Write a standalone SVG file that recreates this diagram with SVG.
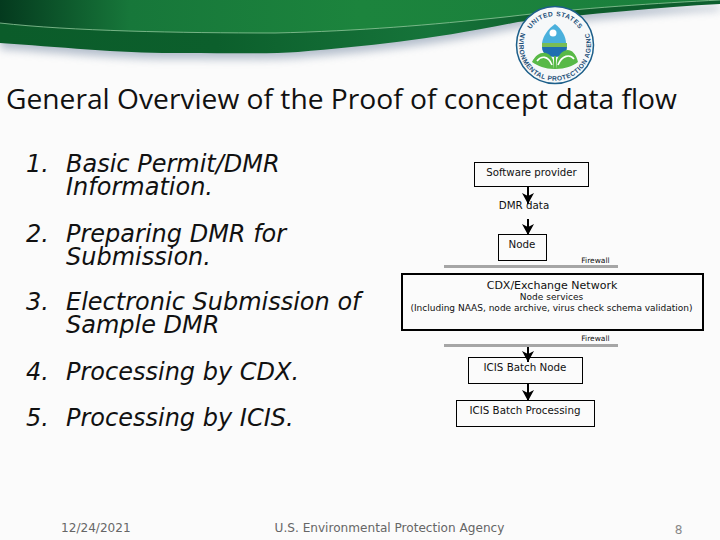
<svg xmlns="http://www.w3.org/2000/svg" width="720" height="540" viewBox="0 0 720 540">
<style>
.b{fill:none;stroke:#000;stroke-width:1}
.d{font-family:"DejaVu Sans",sans-serif;fill:#111}
.li{font-family:"DejaVu Sans",sans-serif;font-style:italic;font-size:24px;fill:#111}
.f{font-family:"DejaVu Sans",sans-serif;font-size:12.1px;fill:#666}
.c{stroke:#000;stroke-width:2;fill:none;marker-end:url(#a)}
.fw{stroke:#a6a6a6;stroke-width:3}
.r{font-family:"Liberation Sans",sans-serif;font-size:6.6px;font-weight:bold;fill:#1d4f78;letter-spacing:.5px}
</style>
<defs>
<marker id="a" markerUnits="userSpaceOnUse" markerWidth="12" markerHeight="12" refX="11" refY="6" orient="auto"><path d="M0 0L11 6L0 12L3 6Z" fill="#000"/></marker>
<linearGradient id="g1" x1="0" x2="1" y1="0" y2="0"><stop offset="0" stop-color="#043a1e"/><stop offset=".18" stop-color="#17773a"/><stop offset=".5" stop-color="#1c843d"/><stop offset="1" stop-color="#1a7f3c"/></linearGradient>
<linearGradient id="g2" x1="0" x2="1" y1="0" y2="0"><stop offset="0" stop-color="#0b5c2a"/><stop offset=".3" stop-color="#0c5f2c"/><stop offset=".6" stop-color="#16743a"/><stop offset=".8" stop-color="#0d5c2c"/><stop offset="1" stop-color="#0d5f2e"/></linearGradient>
<filter id="s" x="-5%" y="-20%" width="110%" height="150%"><feGaussianBlur stdDeviation="4"/></filter>
<path id="top" d="M526 45A29 29 0 0 1 584 45"/>
<path id="bot" d="M521 33A36 36 0 1 0 589 33"/>
</defs>
<rect width="720" height="540" fill="#fbfbfb"/>
<g id="banner">
<path d="M0 43C60 47 130 54 183 53C230 53 270 54 298 52C370 46 430 40 518 22C590 14 660 7 720 4V0H0Z" transform="translate(0 6)" fill="#8f9fb4" opacity=".65" filter="url(#s)"/>
<path d="M0 43C60 47 130 54 183 53C230 53 270 54 298 52C370 46 430 40 518 22C590 14 660 7 720 4V0H0Z" fill="url(#g2)"/>
<path d="M0 23C70 31 180 33 275 33C360 31 430 25 505 17C580 8 660 3 720 0H0Z" fill="url(#g1)"/>
<path d="M0 23C70 31 180 33 275 33C360 31 430 25 505 17C580 8 660 3 720 0" fill="none" stroke="#8fc79a" stroke-width=".8"/>
</g>
<g id="epa-logo">
<ellipse cx="555" cy="45" rx="38.500" ry="38.500" fill="#f6f8f9" stroke="#1d5f8a" stroke-width="1.500"/>
<path d="M555 24C562 29 566 37 566 43H542C543 36 548 29 555 24Z" fill="#4ab0dc"/>
<path d="M542 43H567V47H542Z" fill="#79bd55"/>
<path d="M542 47H567C567 54 561 57 555 57C548 57 542 54 542 47Z" fill="#1e6db0"/>
<circle cx="553" cy="33" r="3.500" fill="#fff"/>
<path d="M554 69C545 69 538 66 532 62C538 50 549 50 553 60ZM556 69C565 69 573 66 578 62C574 46 562 47 557 60Z" fill="#58b947"/>
<path d="M537 61C541 56 548 55 552 65M574 59C570 54 562 55 558 65" fill="none" stroke="#fff" stroke-width="1.600"/>
<path d="M555 56V69" stroke="#58b947" stroke-width="2"/>
<text class="r"><textPath href="#top" startOffset="50%" text-anchor="middle">UNITED STATES</textPath></text>
<text class="r"><textPath href="#bot" startOffset="50%" text-anchor="middle">ENVIRONMENTAL PROTECTION AGENCY</textPath></text>
</g>
<text x="6" y="109" font-family="'Open Sans',sans-serif" font-size="28.200px" fill="#111">General Overview of the Proof of concept data flow</text>
<g id="list" class="li">
<text x="26" y="172">1.</text><text x="66" y="172">Basic Permit/DMR</text><text x="66" y="195">Information.</text>
<text x="26" y="242">2.</text><text x="66" y="242">Preparing DMR for</text><text x="66" y="265">Submission.</text>
<text x="26" y="310">3.</text><text x="66" y="310">Electronic Submission of</text><text x="66" y="333">Sample DMR</text>
<text x="26" y="380">4.</text><text x="66" y="380">Processing by CDX.</text>
<text x="26" y="426">5.</text><text x="66" y="426">Processing by ICIS.</text>
</g>
<g id="connectors">
<path class="c" d="M528 187V204"/>
<path class="c" d="M528 219V235"/>
<path class="c" d="M528 345V362"/>
<path class="c" d="M528 384V401"/>
<path class="fw" d="M444 266.500H618"/>
<path class="fw" d="M444 345.500H618"/>
</g>
<g id="software-provider"><rect class="b" x="474.500" y="162.500" width="114" height="24"/><text class="d" x="531.500" y="176" font-size="10.200" text-anchor="middle">Software provider</text></g>
<g id="dmr-data"><text class="d" x="524" y="209" font-size="10.300" text-anchor="middle">DMR data</text></g>
<g id="node"><rect class="b" x="498.500" y="234.500" width="48" height="26"/><text class="d" x="522" y="248" font-size="10.300" text-anchor="middle">Node</text></g>
<g id="firewall-1"><text class="d" x="595.500" y="263" font-size="7.500" text-anchor="middle">Firewall</text></g>
<g id="cdx"><rect x="402" y="274" width="301" height="56" fill="none" stroke="#000" stroke-width="2"/>
<text class="d" x="552" y="288.500" font-size="11" text-anchor="middle">CDX/Exchange Network</text>
<text class="d" x="551.500" y="300" font-size="9" text-anchor="middle">Node services</text>
<text class="d" x="551.500" y="311" font-size="9" text-anchor="middle">(Including NAAS, node archive, virus check schema validation)</text></g>
<g id="firewall-2"><text class="d" x="595.500" y="341" font-size="7.500" text-anchor="middle">Firewall</text></g>
<g id="icis-node"><rect class="b" x="468.500" y="357.500" width="114" height="26"/><text class="d" x="525" y="371" font-size="10.300" text-anchor="middle">ICIS Batch Node</text></g>
<g id="icis-processing"><rect class="b" x="456.500" y="400.500" width="138" height="26"/><text class="d" x="525" y="414" font-size="10.300" text-anchor="middle">ICIS Batch Processing</text></g>
<g id="footer">
<text class="f" x="61" y="532">12/24/2021</text>
<text class="f" x="389.500" y="532" text-anchor="middle">U.S. Environmental Protection Agency</text>
<text class="f" x="678.500" y="534" text-anchor="middle" style="fill:#888">8</text>
</g>
</svg>
